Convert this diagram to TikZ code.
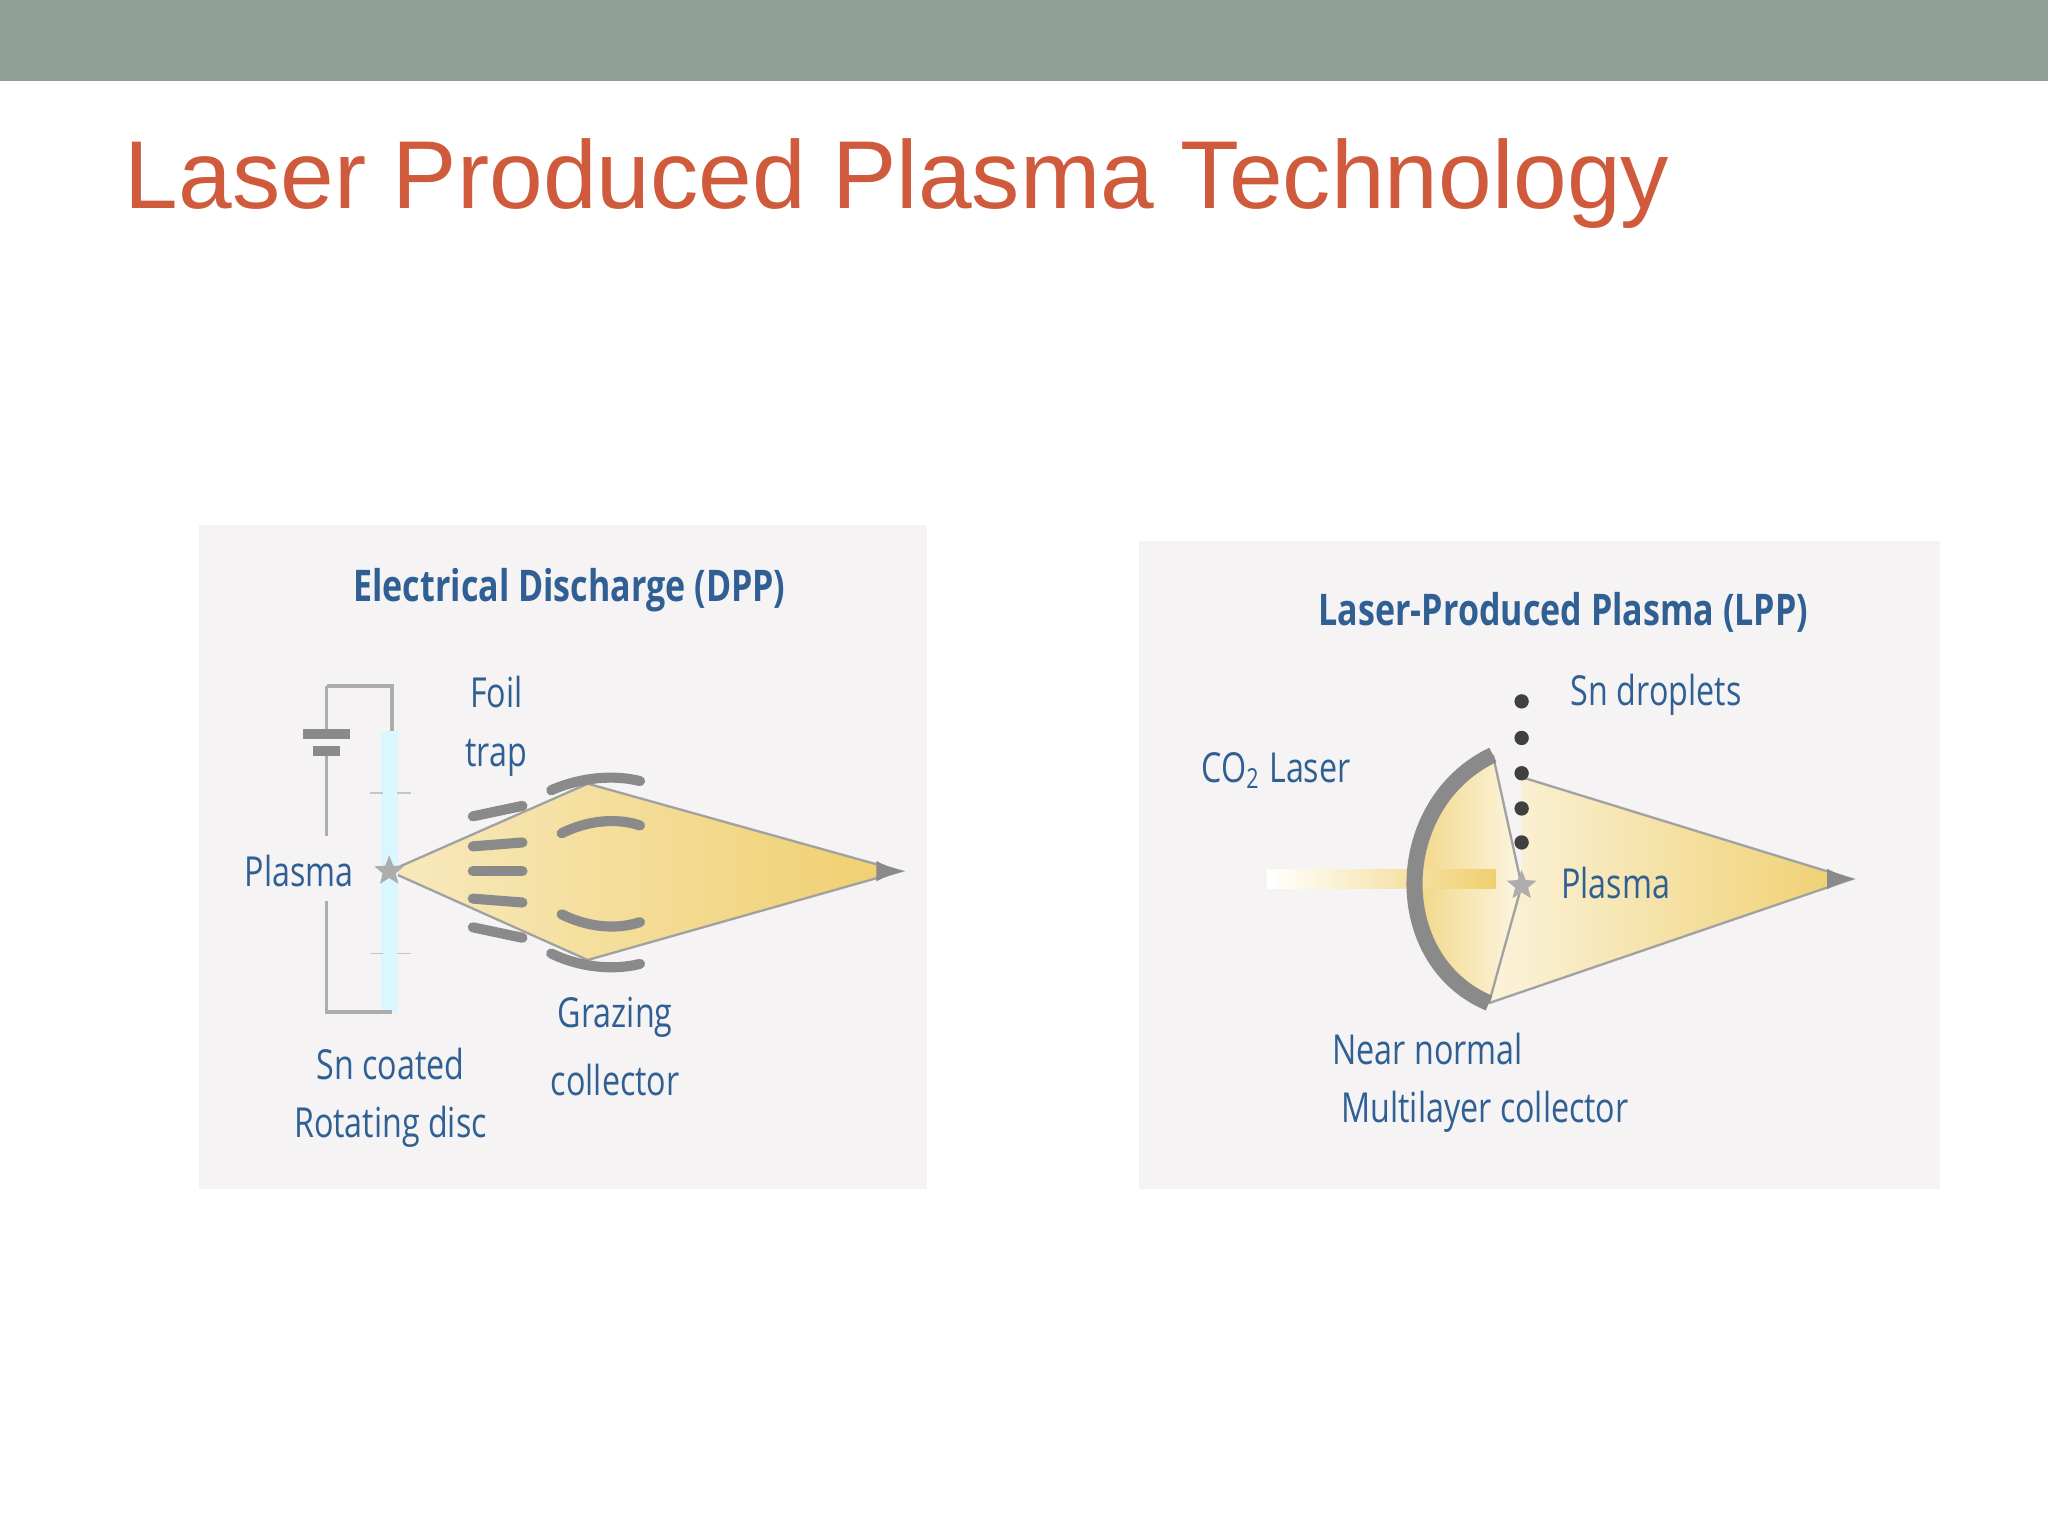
\documentclass[tikz,border=0pt]{standalone}
\usepackage{fontspec}
\setmainfont{Liberation Sans}
\newfontfamily\lblfont[FakeStretch=0.78]{Open Sans}
\usetikzlibrary{shapes.geometric,arrows.meta}
\definecolor{barcol}{HTML}{909F97}
\definecolor{titlecol}{HTML}{CF5A3C}
\definecolor{lblcol}{HTML}{2F5F93}
\definecolor{panelcol}{HTML}{F5F3F3}
\definecolor{conecol}{HTML}{EFCF6E}
\definecolor{partcol}{HTML}{8A8A8A}
\begin{document}
\begin{tikzpicture}[x=0.01cm,y=-0.01cm,
  lbl/.style={text=lblcol,font=\lblfont\fontsize{9}{11}\selectfont,inner sep=0pt},
  head/.style={text=lblcol,font=\lblfont\bfseries\fontsize{9.5}{12}\selectfont,inner sep=0pt},
  plasma/.style={star,star points=5,star point ratio=2.3,fill=partcol!70,inner sep=0pt,minimum size=0.24cm},
  part/.style={draw=partcol,line width=2.2pt,line cap=round},
  ray/.style={draw=partcol!80,line width=0.5pt}]
  \useasboundingbox (0,0) rectangle (1568,1176);
  \fill[white] (0,0) rectangle (1568,1176);
  \fill[barcol] (0,0) rectangle (1568,62);
  \node[anchor=base west,text=titlecol,font=\fontsize{21}{25}\selectfont,inner sep=0pt] (title) at (95,160) {Laser Produced Plasma Technology};

  % left panel
  \fill[panelcol] (152,402) rectangle (710,910);
  \node[head] (dpp) at (436,452) {Electrical Discharge (DPP)};
  \coordinate (sl) at (298,667);
  \coordinate (tipl) at (690,667);
  \coordinate (gt) at (450,600);
  \coordinate (gb) at (450,735);
  \shade[left color=conecol!45,middle color=white,right color=conecol] (sl) -- (gt) -- (tipl) -- (gb) -- cycle;
  \draw[ray] (sl) -- (gt) -- (tipl) -- (gb) -- (sl);
  \draw[-{Latex[length=6pt]},partcol] (tipl) -- ++(2,0);
  % disc
  \fill[blue!20!cyan!15] (292,560) rectangle (305,775);
  \draw[partcol!50,dashed] (283,607) -- (320,607) (283,730) -- (320,730);
  \node[plasma] (starl) at (sl) {};
  % circuit
  \draw[partcol!70,thick] (250,525) -- (300,525) -- (300,560);
  \draw[partcol!70,thick] (250,525) -- (250,560);
  \draw[partcol!70,thick] (250,576) -- (250,640);
  \draw[partcol!70,thick] (250,690) -- (250,775) -- (300,775);
  \draw[partcol,line width=2pt] (232,562) -- (268,562);
  \draw[partcol,line width=2pt] (240,575) -- (260,575);
  % foil trap
  \foreach \y/\d in {625/-8,648/-3,667/0,688/3,710/8}
    \draw[part] (362,\y) -- (400,\y+\d);
  % grazing collector
  \draw[part] (422,605) .. controls (445,595) and (470,593) .. (490,598);
  \draw[part] (430,638) .. controls (450,628) and (472,626) .. (490,632);
  \draw[part] (430,700) .. controls (450,710) and (472,712) .. (490,706);
  \draw[part] (422,730) .. controls (445,741) and (470,743) .. (490,738);
  \node[lbl] (foil) at (380,530) {Foil};
  \node[lbl] (trap) at (380,580) {trap};
  \node[lbl] (plasmal) at (229,667) {Plasma};
  \node[lbl] (graz) at (471,779) {Grazing};
  \node[lbl] (collg) at (471,827) {collector};
  \node[lbl] (sncoat) at (299,815) {Sn coated};
  \node[lbl] (rotd) at (299,863) {Rotating disc};

  % right panel
  \fill[panelcol] (872,414) rectangle (1485,910);
  \node[head] (lpp) at (1197,469) {Laser-Produced Plasma (LPP)};
  \coordinate (sr) at (1165,678);
  \coordinate (tipr) at (1418,673);
  \coordinate (mt) at (1143,578);
  \coordinate (mb) at (1140,768);
  \coordinate (dt) at (1165,595);
  \shade[left color=conecol!25,right color=conecol] (dt) -- (tipr) -- (mb) -- (sr) -- cycle;
  \shade[left color=conecol,right color=conecol!20] (mt) .. controls (1065,615) and (1062,735) .. (mb) -- (sr) -- cycle;
  \shade[left color=conecol!0,right color=conecol] (970,666) rectangle (1145,680);
  \draw[ray] (mt) -- (sr) -- (mb);
  \draw[ray] (dt) -- (tipr) -- (mb);
  \draw[-{Latex[length=6pt]},partcol] (tipr) -- ++(2,0);
  \draw[partcol,line width=3.5pt] (mt) .. controls (1065,615) and (1062,735) .. (mb);
  \node[plasma] (starr) at (sr) {};
  \foreach \y in {537,565,592,619,645}
    \fill[black!75] (1165,\y) circle (5.5);
  \node[lbl] (sndrop) at (1268,532) {Sn droplets};
  \node[lbl] (co2) at (977,590) {CO\textsubscript{2} Laser};
  \node[lbl] (plasmar) at (1237,676) {Plasma};
  \node[lbl] (nearn) at (1093,803) {Near normal};
  \node[lbl] (multi) at (1137,851) {Multilayer collector};
\end{tikzpicture}
\end{document}
